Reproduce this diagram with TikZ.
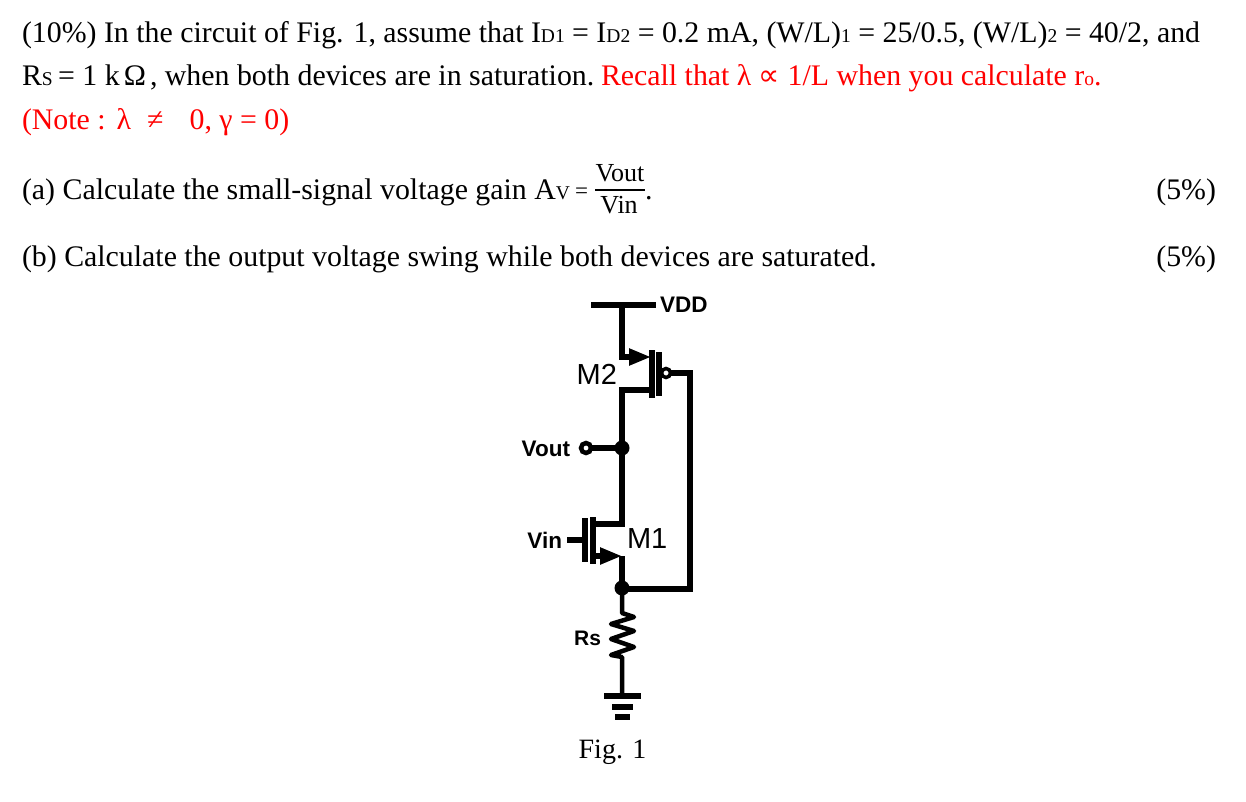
\documentclass[tikz,border=0pt]{standalone}
\usepackage{fontspec}
\setmainfont{Liberation Serif}
\newfontfamily\cktfont{Liberation Sans}
\newfontfamily\symbfont{DejaVu Sans}
\usepackage{xcolor}
\usetikzlibrary{positioning, arrows.meta}
\newcommand{\sm}[1]{{\fontsize{19.5}{19.5}\selectfont #1}}
\definecolor{notered}{RGB}{255,0,0}

\begin{document}
\begin{tikzpicture}[
    x=1pt, y=-1pt,
    node distance=10pt,
    every node/.style={inner sep=0pt, outer sep=0pt},
    txt/.style={anchor=base west, font=\fontsize{29.85}{29.85}\selectfont},
    red/.style={txt, text=notered},
    pct/.style={anchor=base east, font=\fontsize{29.85}{29.85}\selectfont},
    fig/.style={anchor=base, font=\fontsize{28}{28}\selectfont},
    frac/.style={anchor=base, font=\fontsize{26}{26}\selectfont},
    lab/.style={font=\cktfont\bfseries\fontsize{22.5}{22.5}\selectfont},
    dev/.style={font=\cktfont\fontsize{29}{29}\selectfont},
    wire/.style={line width=5.2pt, line cap=butt, line join=miter},
    plate/.style={line width=5.2pt},
    tip/.style={line width=5.2pt, -{Triangle[length=22pt, width=16pt]}},
    dot/.style={circle, fill=black, minimum size=15pt},
    pin/.style={circle, draw=black, fill=white, line width=4.5pt, minimum size=10pt}
]
\useasboundingbox (0,0) rectangle (1246,802);

% --- question text ---
\node[txt] (l1) at (22,43) {(10\%) In the circuit of Fig. 1, assume that I\sm{D1} = I\sm{D2} = 0.2 mA, (W/L)\sm{1} = 25/0.5, (W/L)\sm{2} = 40/2, and};
\node[txt] (l2) at (22,86) {R\sm{S}\kern-2pt\ = 1 k\kern4pt Ω\kern4pt, when both devices are in saturation.};
\node[red] (l2r) at (601,86) {Recall that λ {\symbfont ∝} 1/L when you calculate r\sm{o}.};
\node[red] (l3) at (22,130) {(Note :\hspace{11pt}λ\hspace{16pt}≠\hspace{26pt}0, γ = 0)};
\node[txt] (l4) at (22,200) {(a) Calculate the small-signal voltage gain A\sm{V}};
\node[txt, font=\fontsize{23}{23}\selectfont] (eq) at (575,199) {=};
\node[frac] (num) at (620,182) {Vout};
\node[frac] (den) at (619,214) {Vin};
\node[txt] (per) at (645,200) {.};
\coordinate (fl) at (595,190);
\coordinate (fr) at (645,190);
\draw[line width=2pt] (fl) -- (fr);
\node[pct] (p1) at (1216,200) {(5\%)};
\node[txt] (l5) at (22,266) {(b) Calculate the output voltage swing while both devices are saturated.};
\node[pct] (p2) at (1216,266) {(5\%)};

% --- supply and M2 ---
\coordinate (vddl) at (591,305);
\coordinate (vddr) at (656,305);
\coordinate (vddt) at (622,305);
\coordinate[below=52pt of vddt] (m2s);
\coordinate[right=29pt of m2s] (m2si);
\coordinate[left=2.6pt of m2s] (m2sc);
\coordinate[below=85pt of vddt] (m2d);
\coordinate[right=28pt of m2d] (m2di);
\coordinate (m2ct) at (652,350);
\coordinate (m2cb) at (652,398);
\coordinate (m2gt) at (659,352);
\coordinate (m2gb) at (659,396);
\node[pin, line width=3.5pt, minimum size=9pt] (m2g) at (666,373) {};
\coordinate (bulkt) at (690,373);

% --- output node ---
\node[dot] (out) at (622,448) {};
\node[pin] (voutp) at (586,448) {};

% --- M1 ---
\coordinate (m1d) at (622,524);
\coordinate[left=26pt of m1d] (m1di);
\coordinate (m1ct) at (593,517);
\coordinate (m1cb) at (593,564);
\coordinate (m1gt) at (585,518);
\coordinate (m1gb) at (585,562);
\coordinate (m1g) at (585,540);
\coordinate (vinp) at (567,540);
\coordinate (m1s) at (622,556);
\coordinate[left=27pt of m1s] (m1si);

% --- source node, Rs and ground ---
\node[dot] (src) at (622,588) {};
\coordinate (bulkb) at (690,589);
\coordinate (srcr) at (622,589);
\coordinate (rtop) at (622,613);
\coordinate (rbot) at (622,657);
\coordinate (gnd) at (622,696);
\coordinate (g1l) at (604,696);
\coordinate (g1r) at (641,696);
\coordinate (g2l) at (612,707);
\coordinate (g2r) at (633,707);
\coordinate (g3l) at (615,717);
\coordinate (g3r) at (630,717);

% --- labels ---
\node[lab, anchor=west] (vdd) at (660,305) {VDD};
\node[dev, anchor=east] (m2) at (617,374) {M2};
\node[lab, anchor=east] (vout) at (570,449) {Vout};
\node[lab, anchor=east] (vin) at (562,540) {Vin};
\node[dev, anchor=west] (m1) at (627,539) {M1};
\node[lab, anchor=east, font=\cktfont\bfseries\fontsize{21}{21}\selectfont] (rs) at (601,638) {Rs};
\node[fig] (cap) at (612.5,758) {Fig. 1};

% --- wires ---
\draw[wire] (vddl) -- (vddr);
\draw[wire] (vddt) -- (m2s);
\draw[tip] (m2sc) -- (m2si);
\draw[plate] (m2ct) -- (m2cb);
\draw[plate] (m2gt) -- (m2gb);
\draw[wire] (m2di) -- (m2d) -- (out.center);
\draw[wire] (m2g) -- (bulkt) -- (bulkb) -- (srcr);
\draw[wire] (voutp) -- (out.center);
\draw[wire] (out.center) -- (m1d) -- (m1di);
\draw[plate] (m1ct) -- (m1cb);
\draw[plate] (m1gt) -- (m1gb);
\draw[wire] (vinp) -- (m1g);
\draw[tip] (m1si) -- (m1s);
\draw[wire] (m1s) -- (src.center);
\draw[wire, line width=4.5pt, line join=round] (src.center) -- (rtop) -- ++(12,4) -- ++(-23,7) -- ++(23,7) -- ++(-23,8) -- ++(23,8) -- ++(-23,8) -- (rbot) -- (gnd);
\draw[wire] (g1l) -- (g1r);
\draw[wire] (g2l) -- (g2r);
\draw[wire] (g3l) -- (g3r);

\end{tikzpicture}
\end{document}
